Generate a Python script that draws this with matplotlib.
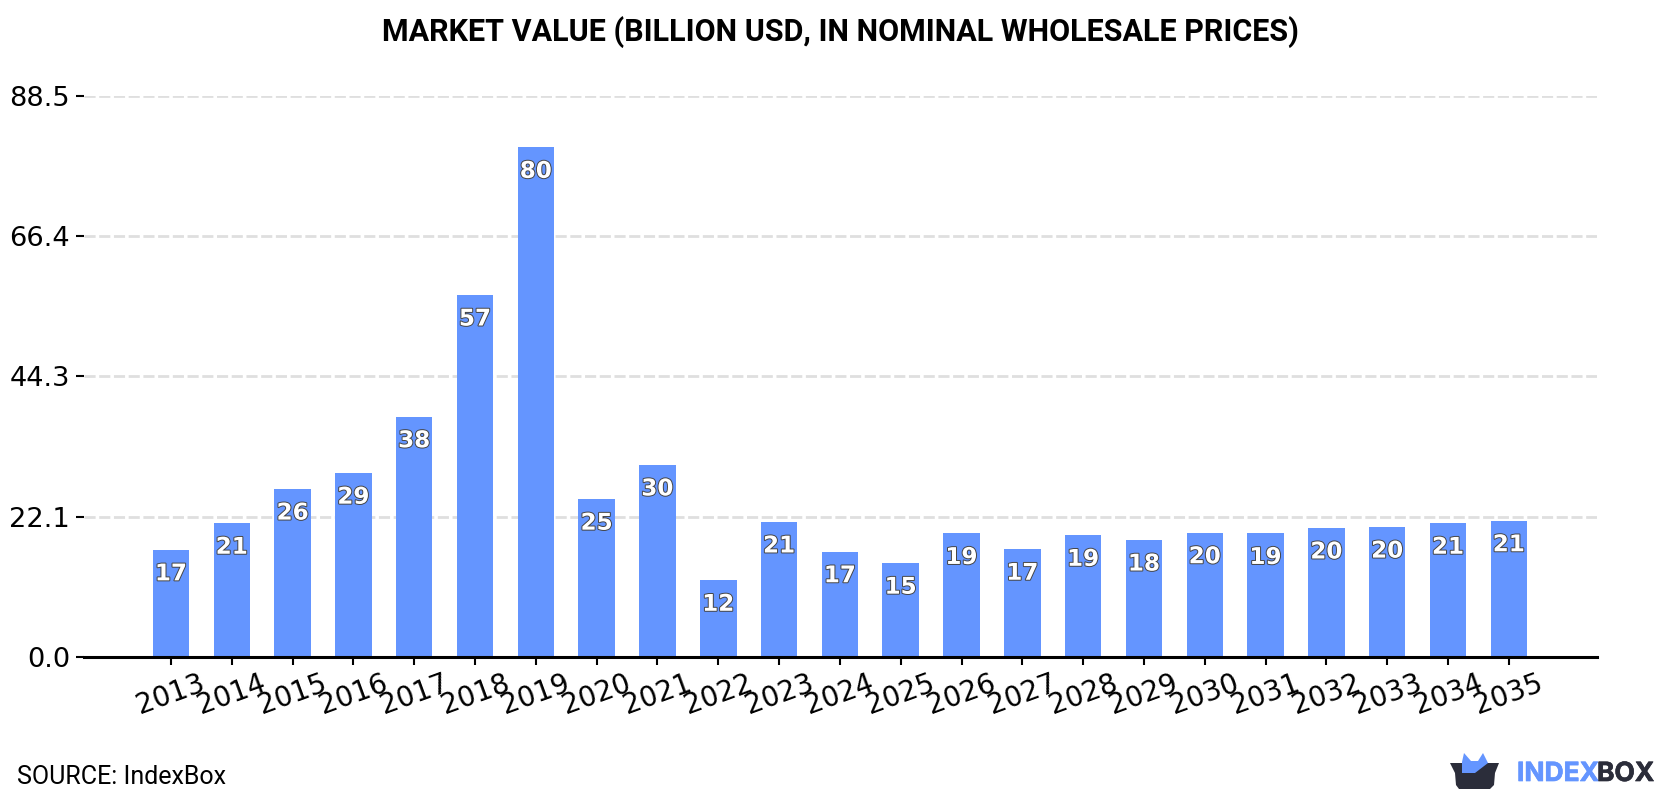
import matplotlib
matplotlib.use("Agg")
import matplotlib.pyplot as plt
import matplotlib.patheffects as pe
from matplotlib.patches import Polygon

years = [2013, 2014, 2015, 2016, 2017, 2018, 2019, 2020, 2021, 2022, 2023, 2024,
         2025, 2026, 2027, 2028, 2029, 2030, 2031, 2032, 2033, 2034, 2035]
values = [16.9, 21.1, 26.49, 29.0, 37.9, 57.1, 80.4, 24.9, 30.3, 12.1, 21.3, 16.6,
          14.8, 19.49, 17.0, 19.2, 18.45, 19.6, 19.49, 20.35, 20.49, 21.1, 21.49]
y_ticks = [0.0, 22.1, 44.3, 66.4, 88.5]
title = "MARKET VALUE (BILLION USD, IN NOMINAL WHOLESALE PRICES)"
source = "SOURCE: IndexBox"

W, H = 1680, 800
BLUE = "#6495ff"
DARK = "#2b2d3a"

fig = plt.figure(figsize=(W / 100, H / 100), dpi=100, facecolor="white")
ax = fig.add_axes([84 / W, 1 - 657 / H, (1597 - 84) / W, (657 - 96) / H])

ax.bar(range(len(years)), values, width=0.6, color=BLUE, zorder=2)
ax.set_xlim(-1.43, 23.45)
ax.set_ylim(0, 88.5)

ax.set_yticks(y_ticks, [f"{t:.1f}" for t in y_ticks], fontsize=19.6)
ax.set_xticks(range(len(years)), [str(y) for y in years], fontsize=20, rotation=20)
ax.tick_params(axis="both", length=6, width=1.5, color="black", pad=4)
ax.tick_params(axis="x", pad=3)
ax.grid(axis="y", color="#dfdfdf", linewidth=2, linestyle=(0, (4, 1.3)), zorder=1)
ax.set_axisbelow(True)
for side in ("top", "right", "left"):
    ax.spines[side].set_visible(False)
ax.spines["bottom"].set_linewidth(2.2)
ax.spines["bottom"].set_zorder(5)

# value labels sit just inside the top of each bar
for i, v in enumerate(values):
    ax.annotate(f"{round(v)}", (i, v), xytext=(0, -24), textcoords="offset pixels",
                ha="center", va="center", fontsize=16.6, fontweight="bold", color="white",
                path_effects=[pe.withStroke(linewidth=1.4, foreground="#444444")], zorder=4)

fig.text(0.5, 1 - 32 / H, title, ha="center", va="center", fontsize=22,
         fontweight="bold", family="Roboto", color="black")
fig.text(17 / W, 1 - 777 / H, source, ha="left", va="center", fontsize=18,
         family="Roboto", color="black")

# brand mark in the lower right corner
overlay = fig.add_axes([0, 0, 1, 1], facecolor="none")
overlay.set_xlim(0, W)
overlay.set_ylim(H, 0)
overlay.axis("off")
overlay.add_patch(Polygon([(1450, 763), (1499, 763), (1495, 773), (1494, 785), (1490, 789),
                           (1459, 789), (1456, 785), (1455, 773)],
                          closed=True, color=DARK, lw=0))
overlay.add_patch(Polygon([(1462, 773), (1462, 762), (1464, 753), (1471, 761), (1478, 761),
                           (1483, 753), (1488, 763), (1475, 773)],
                          closed=True, color=BLUE, lw=0))
logo_stroke = 0.5
overlay.text(1517, 774, "INDEX", ha="left", va="center", fontsize=19, fontweight="bold",
             family="Inter", color=BLUE,
             path_effects=[pe.withStroke(linewidth=logo_stroke, foreground=BLUE)])
overlay.text(1597, 774, "BOX", ha="left", va="center", fontsize=19, fontweight="bold",
             family="Inter", color=DARK,
             path_effects=[pe.withStroke(linewidth=logo_stroke, foreground=DARK)])

fig.savefig("out.png", dpi=100, facecolor="white")
